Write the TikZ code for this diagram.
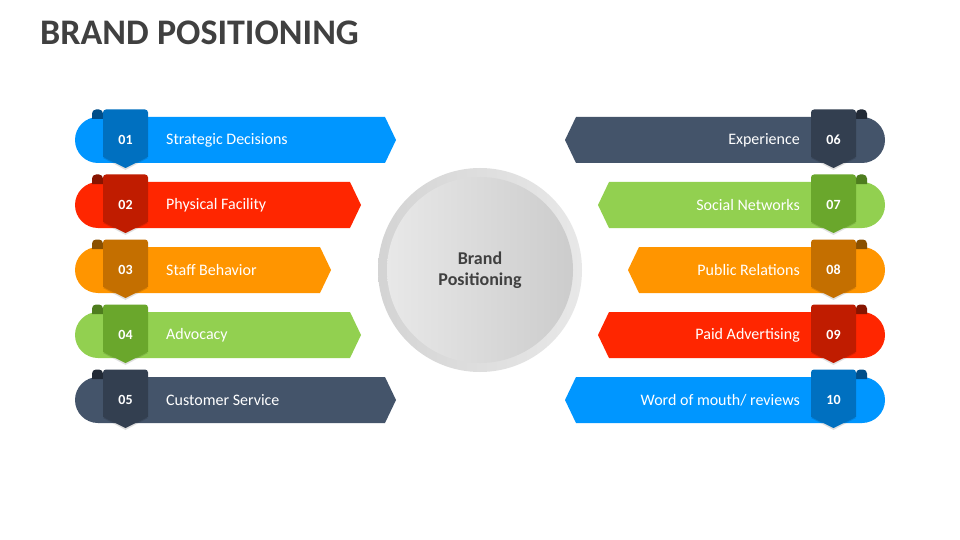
\documentclass[tikz,border=0pt]{standalone}
\usepackage{fontspec}
\setmainfont{Carlito}
\usetikzlibrary{positioning}

\definecolor{cblue}{RGB}{0,150,255}
\definecolor{cbluedk}{RGB}{0,112,192}
\definecolor{cbluefd}{RGB}{0,78,138}
\definecolor{cred}{RGB}{255,38,0}
\definecolor{creddk}{RGB}{192,28,0}
\definecolor{credfd}{RGB}{135,20,0}
\definecolor{corange}{RGB}{255,149,0}
\definecolor{corangedk}{RGB}{196,111,0}
\definecolor{corangefd}{RGB}{138,80,0}
\definecolor{cgreen}{RGB}{146,208,80}
\definecolor{cgreendk}{RGB}{106,167,44}
\definecolor{cgreenfd}{RGB}{78,125,30}
\definecolor{cslate}{RGB}{68,84,106}
\definecolor{cslatedk}{RGB}{51,63,80}
\definecolor{cslatefd}{RGB}{34,42,54}
\definecolor{ctext}{RGB}{64,64,64}

\begin{document}
\begin{tikzpicture}[
  x=1pt, y=-1pt,
  title/.style={font=\fontsize{36}{42}\selectfont\bfseries, text=ctext, inner sep=0pt},
  lbl/.style={font=\fontsize{16}{19}\selectfont, text=white, inner sep=0pt},
  num/.style={font=\fontsize{14}{16}\selectfont\bfseries, text=white, inner sep=0pt},
  hub/.style={font=\fontsize{18}{21}\selectfont\bfseries, text=ctext, align=center}
]
\useasboundingbox (0,0) rectangle (960,540);
\fill[white] (0,0) rectangle (960,540);

\node[title, anchor=base west] (head) at (40,45) {BRAND POSITIONING};

% centre disc
\shade[left color=black!17, right color=black!9] (480,270) circle (102);
\shade[left color=black!9, right color=black!20] (480,270) circle (93);
\node[hub] (brand) at (480,270) {Brand\\Positioning};

% left column
\foreach \i/\tip/\c/\txt in {1/396/cblue/Strategic Decisions, 2/361/cred/Physical Facility,
    3/331/corange/Staff Behavior, 4/361/cgreen/Advocacy, 5/396/cslate/Customer Service}{
  \pgfmathsetmacro{\y}{140+65*(\i-1)}
  \fill[\c] (98,\y) circle (23);
  \fill[\c] (98,\y-23) -- (\tip-11,\y-23) -- (\tip,\y) -- (\tip-11,\y+23) -- (98,\y+23) -- cycle;
  \fill[\c fd] (92,\y-21) [rounded corners=4pt] -- (92,\y-30.5) -- (103,\y-30.5) [sharp corners] -- (103,\y-21) -- cycle;
  \fill[black, opacity=0.12] (103,\y+18) -- (125.5,\y+30) -- (148,\y+18) -- cycle;
  \fill[\c dk] (103,\y+17) [rounded corners=3pt] -- (103,\y-30.5) -- (148,\y-30.5) [sharp corners] -- (148,\y+17) -- (125.5,\y+28) -- cycle;
  \node[num] (num\i) at (125.5,\y) {0\i};
  \node[lbl, anchor=west] (lbl\i) at (166,\y) {\txt};
}

% right column
\foreach \i/\tip/\c/\txt in {6/565/cslate/Experience, 7/598/cgreen/Social Networks,
    8/628/corange/Public Relations, 9/598/cred/Paid Advertising, 10/565/cblue/{Word of mouth/ reviews}}{
  \pgfmathsetmacro{\y}{140+65*(\i-6)}
  \fill[\c] (862,\y) circle (23);
  \fill[\c] (862,\y-23) -- (\tip+11,\y-23) -- (\tip,\y) -- (\tip+11,\y+23) -- (862,\y+23) -- cycle;
  \fill[\c fd] (867,\y-21) [rounded corners=4pt] -- (867,\y-30.5) -- (856,\y-30.5) [sharp corners] -- (856,\y-21) -- cycle;
  \fill[black, opacity=0.12] (811,\y+18) -- (833.5,\y+30) -- (856,\y+18) -- cycle;
  \fill[\c dk] (811,\y+17) [rounded corners=3pt] -- (811,\y-30.5) -- (856,\y-30.5) [sharp corners] -- (856,\y+17) -- (833.5,\y+28) -- cycle;
  \node[num] (num\i) at (833.5,\y) {\ifnum\i<10 0\fi\i};
  \node[lbl, anchor=east] (lbl\i) at (800,\y) {\txt};
}
\end{tikzpicture}
\end{document}
